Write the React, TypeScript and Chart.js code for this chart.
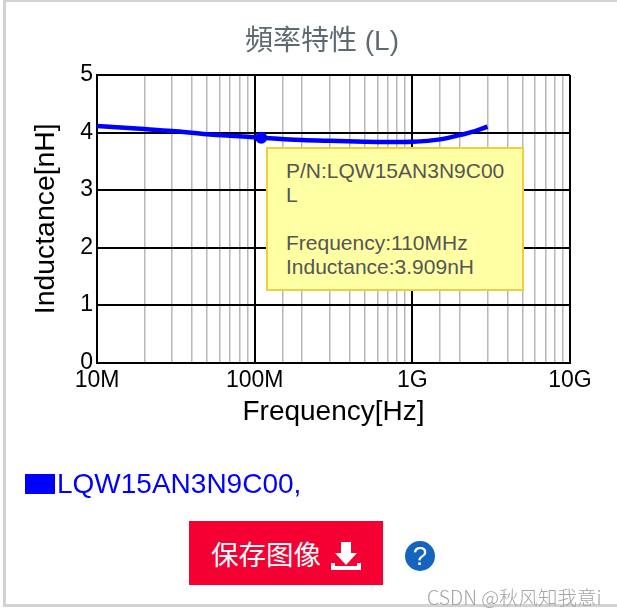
import React, { useEffect, useRef } from "react";
import { Chart, registerables } from "chart.js";

Chart.register(...registerables);

const frequencies = [10, 20, 30, 50, 70, 110, 200, 300, 500, 700, 1000, 1500, 2000, 2500, 3000];
const inductance = [4.113, 4.06, 4.026, 3.97, 3.945, 3.909, 3.87, 3.855, 3.84, 3.835, 3.84, 3.88, 3.955, 4.025, 4.1];
const markedFrequency = 110;
const xTickLabels: Record<number, string> = { 10: "10M", 100: "100M", 1000: "1G", 10000: "10G" };
const tooltipLines = ["P/N:LQW15AN3N9C00", "L", "\u00a0", "Frequency:110MHz", "Inductance:3.909nH"];

const SANS = "'Liberation Sans', Arial, sans-serif";
const CJK = "'Liberation Sans', 'Noto Sans CJK SC', sans-serif";

export default function App() {
  const ref = useRef<HTMLCanvasElement>(null);
  useEffect(() => {
    document.body.style.margin = "0";
    const chart = new Chart(ref.current!, {
      type: "line",
      data: {
        labels: frequencies,
        datasets: [
          {
            data: frequencies.map((f, i) => ({ x: f, y: inductance[i] })),
            borderColor: "#0000ff",
            backgroundColor: "#0000ff",
            borderWidth: 4.5,
            cubicInterpolationMode: "monotone",
            pointRadius: (c: any) => (frequencies[c.dataIndex] === markedFrequency ? 6 : 0),
            pointBorderWidth: 0,
            clip: false,
          },
        ],
      },
      options: {
        animation: false,
        responsive: false,
        layout: { padding: { left: 0, right: 47, top: 75, bottom: 183.5 } },
        plugins: {
          legend: { display: false },
          tooltip: { enabled: false },
        },
        scales: {
          x: {
            type: "logarithmic",
            min: 10,
            max: 10000,
            afterFit: (s: any) => { s.height = 70; },
            border: { display: true, color: "#000", width: 2 },
            grid: {
              drawTicks: false,
              color: (c: any) => (xTickLabels[c.tick?.value] ? "#000000" : "#b8b8b8"),
              lineWidth: (c: any) => (xTickLabels[c.tick?.value] ? 2 : 1.5),
            },
            ticks: {
              autoSkip: false,
              maxRotation: 0,
              padding: 4,
              color: "#000",
              font: { family: SANS, size: 23 },
              callback: (v: any) => xTickLabels[v] ?? "",
            },
            title: {
              display: true,
              text: "Frequency[Hz]",
              color: "#000",
              font: { family: SANS, size: 28, lineHeight: 1.2 },
              padding: { top: 0, bottom: 3 },
            },
          },
          y: {
            min: 0,
            max: 5,
            afterFit: (s: any) => { s.width = 70; },
            border: { display: true, color: "#000", width: 2 },
            grid: { drawTicks: false, color: "#000", lineWidth: 2 },
            ticks: {
              stepSize: 1,
              padding: 4,
              color: "#000",
              font: { family: SANS, size: 23 },
            },
            title: {
              display: true,
              text: "Inductance[nH]",
              color: "#000",
              font: { family: SANS, size: 28.4, lineHeight: 1.2 },
              padding: { top: 2, bottom: 0 },
            },
          },
        },
      },
    } as any);
    return () => chart.destroy();
  }, []);

  return (
    <div style={{ position: "relative", width: 617, height: 616, overflow: "hidden", background: "#fff" }}>
      <div style={{ position: "absolute", left: 3, top: -1, width: 640, height: 602, border: "3px solid #d0d3d6", boxSizing: "content-box" }} />
      <canvas ref={ref} width={590} height={616} style={{ position: "absolute", left: 27, top: 0 }} />
      <div
        style={{
          position: "absolute", left: 27, top: 24, width: 590, textAlign: "center", color: "#5f6a70",
          fontFamily: CJK, fontSize: 28, lineHeight: "34px", whiteSpace: "nowrap",
        }}
      >
        頻率特性 (L)
      </div>
      <div
        style={{
          position: "absolute", left: 266, top: 147, width: 258, height: 144, boxSizing: "border-box",
          background: "#ffffa3", border: "2px solid #f2cf3a", color: "#555", fontFamily: SANS,
          fontSize: 21, lineHeight: "24px", padding: "10px 0 0 18px", whiteSpace: "nowrap",
        }}
      >
        {tooltipLines.map((t, i) => <div key={i}>{t}</div>)}
      </div>
      <div style={{ position: "absolute", left: 25, top: 474, width: 30, height: 20, background: "#0000ff" }} />
      <div style={{ position: "absolute", left: 57, top: 468, color: "#0000ff", fontFamily: SANS, fontSize: 28, lineHeight: "32px", whiteSpace: "nowrap" }}>
        LQW15AN3N9C00,
      </div>
      <div
        style={{
          position: "absolute", left: 189, top: 521, width: 194, height: 64, background: "#f50032", color: "#fff",
          fontFamily: "'Noto Sans CJK SC', sans-serif", fontSize: 27.5, lineHeight: "64px", paddingLeft: 22, boxSizing: "border-box", whiteSpace: "nowrap",
        }}
      >
        保存图像
      </div>
      <svg style={{ position: "absolute", left: 331, top: 541 }} width={30} height={30} viewBox="0 0 30 30">
        <path d="M10 1h10v11h6L15 24 4 12h6z" fill="#fff" />
        <path d="M0 22h4v3h22v-3h4v7H0z" fill="#fff" />
      </svg>
      <div
        style={{
          position: "absolute", left: 405, top: 541, width: 30, height: 30, borderRadius: "50%", background: "#1565c0",
          color: "#fff", fontFamily: SANS, fontSize: 26, lineHeight: "30px", textAlign: "center",
        }}
      >
        ?
      </div>
      <div style={{ position: "absolute", left: 427, top: 586, color: "#a4a4a4", fontFamily: "'Noto Sans CJK SC', sans-serif", fontWeight: 300, fontSize: 19.5, lineHeight: "22px", whiteSpace: "nowrap" }}>
        CSDN @秋风知我意i
      </div>
    </div>
  );
}
